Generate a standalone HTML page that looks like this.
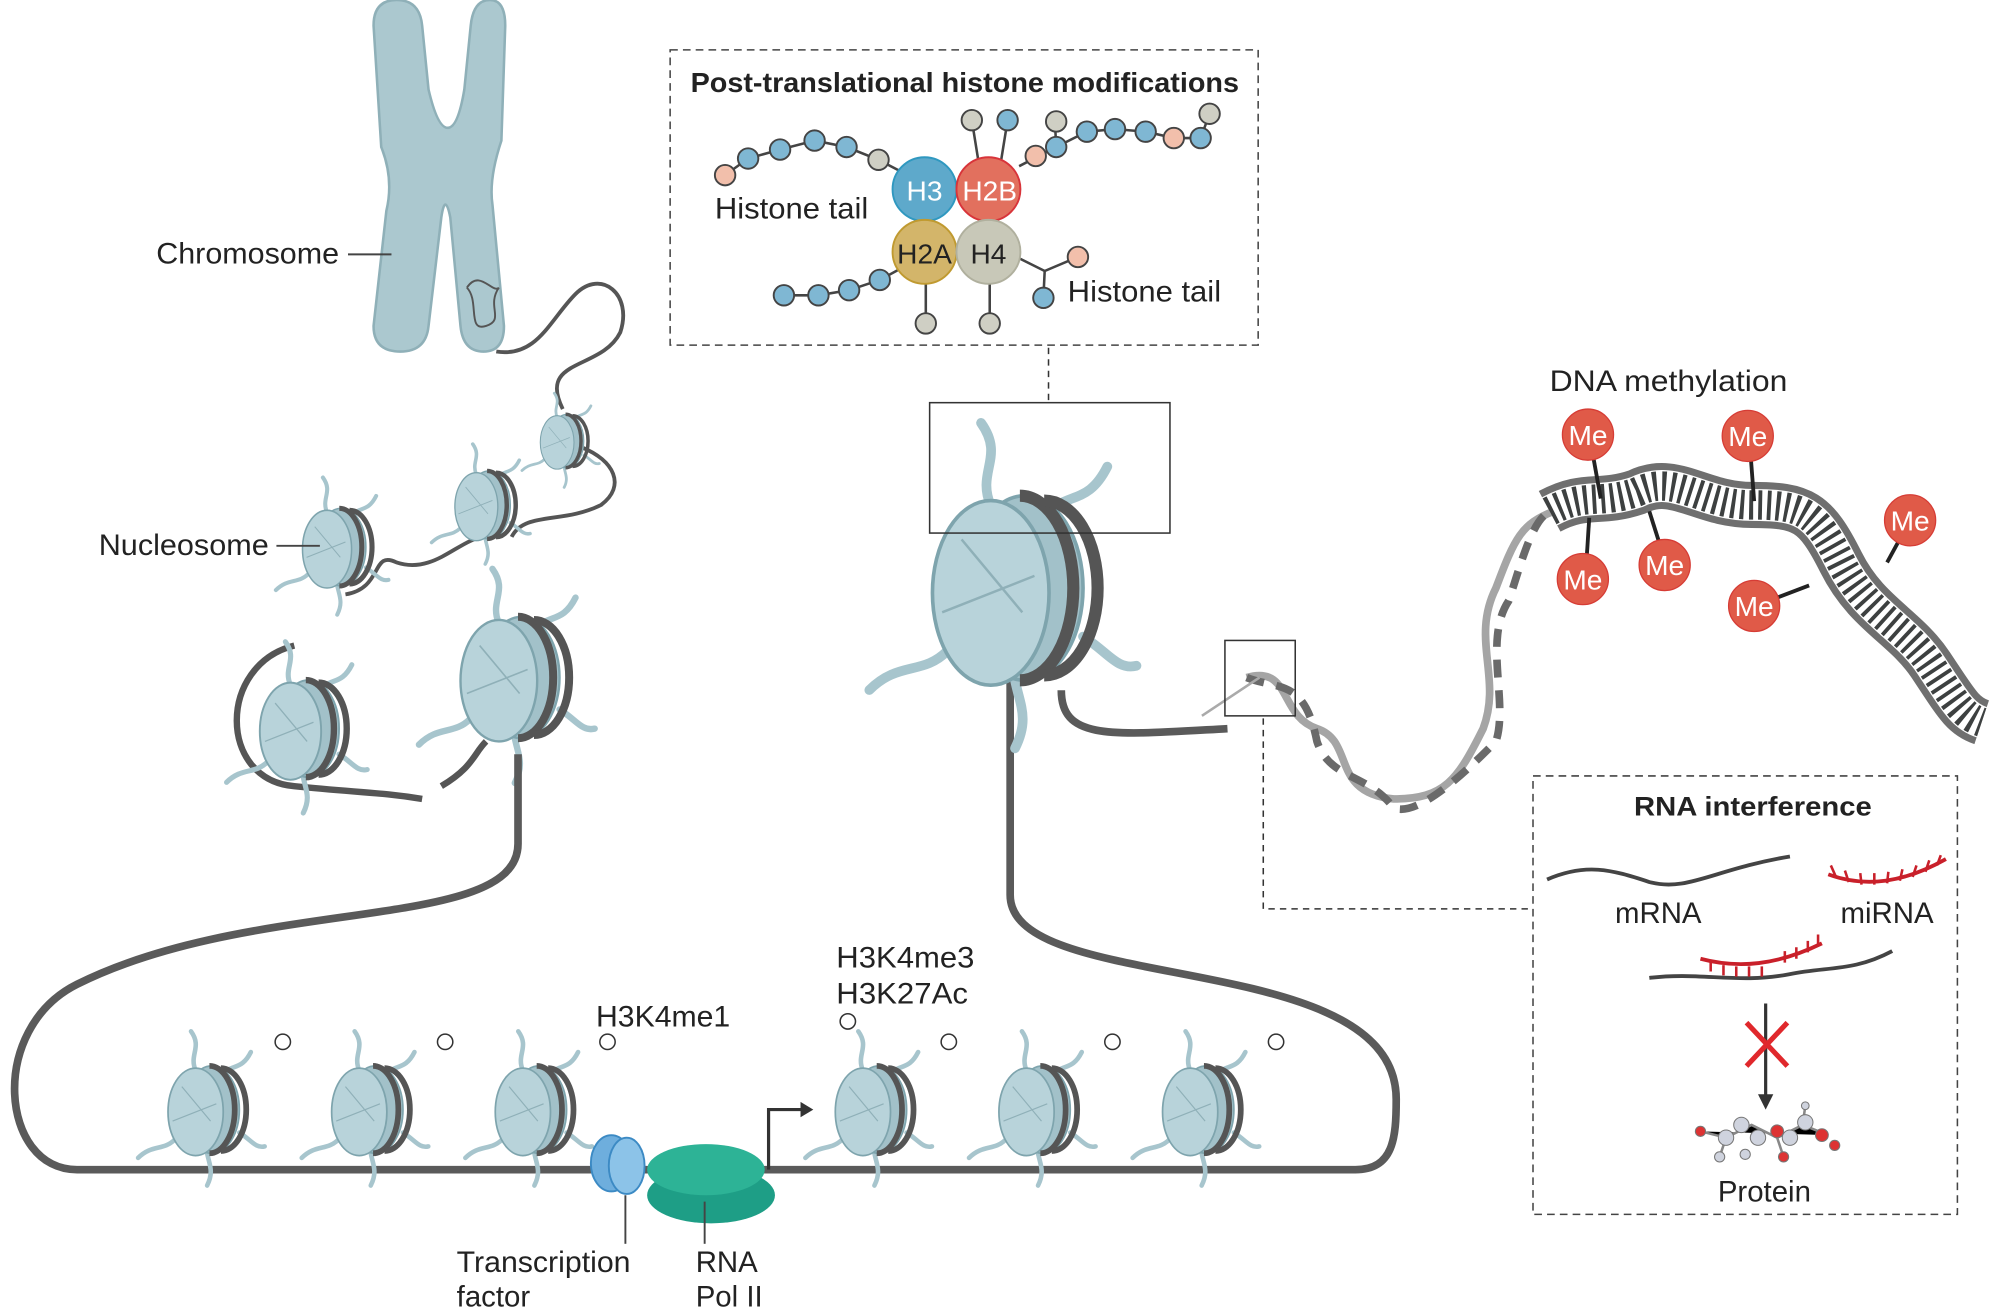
<!DOCTYPE html>
<html><head><meta charset="utf-8"><style>
html,body{margin:0;padding:0;background:#fff}
svg{display:block}
text{font-family:"Liberation Sans",sans-serif;fill:#222}
</style></head><body>
<svg width="2005" height="1309" viewBox="0 0 1568 1024" xmlns="http://www.w3.org/2000/svg">
<defs>
<g id="nuc">
 <g fill="none" stroke="#a7c5cd" stroke-width="4" stroke-linecap="round">
  <path d="M-8,-34 c-6,-14 6,-20 -4,-34"/>
  <path d="M14,-30 c10,-10 18,-4 26,-20"/>
  <path d="M-26,26 c-10,10 -20,4 -32,16"/>
  <path d="M2,38 c2,10 6,16 0,28"/>
  <path d="M30,20 c10,6 14,14 22,12"/>
 </g>
 <ellipse cx="6" cy="0" rx="24" ry="38" fill="#a2c1c9" stroke="#7ea4ad" stroke-width="1.5"/>
 <ellipse cx="-8" cy="2" rx="24" ry="38" fill="#b8d3da" stroke="#7ea4ad" stroke-width="1.5"/>
 <path d="M-20,-20 L5,10 M-28,10 L10,-5" stroke="#8fb0b8" stroke-width="1"/>
 <g fill="none" stroke="#555" stroke-width="5">
  <path d="M4,-38 a22,38 0 0 1 0,76"/>
  <path d="M14,-36 a22,36 0 0 1 0,72"/>
 </g>
</g>
</defs>

<!-- Chromosome -->
<path d="M292,20 Q292,0 310,0 Q328,0 330,20 L335,70 Q342,100 350,100 Q358,100 363,70 L368,20 Q370,0 383,0 Q395,0 395,20 L392,110 Q382,140 385,160 L394,255 Q394,275 378,275 Q362,275 360,255 L352,170 Q348,150 345,170 L335,255 Q333,275 313,275 Q292,275 292,255 L302,165 Q308,140 298,115 Z" fill="#abc8cf" stroke="#8fb0b8" stroke-width="2"/>
<path d="M365,225 c10,-15 20,5 25,0 c-10,15 5,25 -10,30 c-15,5 -5,-20 -15,-30" fill="none" stroke="#555" stroke-width="1.5"/>
<path d="M388,275 C420,280 430,250 450,230 C470,210 495,230 485,260 C470,290 420,280 440,320" fill="none" stroke="#555" stroke-width="3"/>
<text x="122" y="206" font-size="23" textLength="143" lengthAdjust="spacingAndGlyphs">Chromosome</text>
<line x1="272" y1="199" x2="306" y2="199" stroke="#444" stroke-width="1.5"/>

<!-- upper chain nucleosomes -->
<path d="M455,350 C480,360 490,380 470,395 C440,410 410,400 400,420 M380,420 C360,420 340,450 310,440 C290,430 300,460 270,465" fill="none" stroke="#555" stroke-width="3"/>
<use href="#nuc" transform="translate(440,345) scale(0.55)"/>
<use href="#nuc" transform="translate(378,395) scale(0.7)"/>
<use href="#nuc" transform="translate(262,428) scale(0.8)"/>
<text x="77" y="434" font-size="23" textLength="133" lengthAdjust="spacingAndGlyphs">Nucleosome</text>
<line x1="216" y1="427" x2="250" y2="427" stroke="#444" stroke-width="1.5"/>
<path d="M230,505 C170,520 170,610 230,615 C280,620 300,620 330,625" fill="none" stroke="#555" stroke-width="5"/>
<use href="#nuc" transform="translate(235,570)"/>
<use href="#nuc" transform="translate(400,530) scale(1.25)"/>
<path d="M345,615 C370,600 370,590 380,580" fill="none" stroke="#555" stroke-width="5"/>

<!-- big loop DNA -->
<path d="M405,590 L405,660 C405,730 200,700 60,770 C-10,805 0,915 60,915 L1060,915 C1090,915 1092,890 1092,860 C1092,740 790,780 790,700 L790,530" fill="none" stroke="#5a5a5a" stroke-width="6"/>
<path d="M830,540 C830,580 870,575 960,570" fill="none" stroke="#5a5a5a" stroke-width="6"/>

<!-- big nucleosome -->
<use href="#nuc" transform="translate(790,460) scale(1.9)"/>
<rect x="727" y="315" width="188" height="102" fill="none" stroke="#333" stroke-width="1.2"/>
<line x1="820" y1="272" x2="820" y2="313" stroke="#333" stroke-width="1.2" stroke-dasharray="5,4"/>

<!-- PTM box -->
<rect x="524" y="39" width="460" height="231" fill="none" stroke="#444" stroke-width="1.2" stroke-dasharray="6,4"/>
<text x="540" y="72" font-size="22" font-weight="bold" textLength="429" lengthAdjust="spacingAndGlyphs">Post-translational histone modifications</text>
<g stroke="#444" stroke-width="2" fill="none">
<path d="M567,137 L585,124 L610,117 L637,110 L662,115 L687,125 L710,137"/>
<path d="M760,94 L765,125 M788,94 L783,125 M797,130 L826,115 L850,103 L872,101 L896,103 L918,108 L939,108 L946,89 M826,115 L825,95"/>
<path d="M613,231 L640,231 L664,227 L688,219 L710,207"/>
<path d="M724,222 L724,253 M774,222 L774,253 M797,202 L817,212 L843,201 M817,212 L816,233"/>
</g>
<g stroke="#444" stroke-width="1.5">
<circle cx="567" cy="137" r="8" fill="#f2bfab"/><circle cx="585" cy="124" r="8" fill="#7fb7d3"/><circle cx="610" cy="117" r="8" fill="#7fb7d3"/><circle cx="637" cy="110" r="8" fill="#7fb7d3"/><circle cx="662" cy="115" r="8" fill="#7fb7d3"/><circle cx="687" cy="125" r="8" fill="#cfcfc4"/>
<circle cx="760" cy="94" r="8" fill="#cfcfc4"/><circle cx="788" cy="94" r="8" fill="#7fb7d3"/><circle cx="826" cy="95" r="8" fill="#cfcfc4"/>
<circle cx="810" cy="122" r="8" fill="#f2bfab"/><circle cx="826" cy="115" r="8" fill="#7fb7d3"/><circle cx="850" cy="103" r="8" fill="#7fb7d3"/><circle cx="872" cy="101" r="8" fill="#7fb7d3"/><circle cx="896" cy="103" r="8" fill="#7fb7d3"/><circle cx="918" cy="108" r="8" fill="#f2bfab"/><circle cx="939" cy="108" r="8" fill="#7fb7d3"/><circle cx="946" cy="89" r="8" fill="#cfcfc4"/>
<circle cx="613" cy="231" r="8" fill="#7fb7d3"/><circle cx="640" cy="231" r="8" fill="#7fb7d3"/><circle cx="664" cy="227" r="8" fill="#7fb7d3"/><circle cx="688" cy="219" r="8" fill="#7fb7d3"/>
<circle cx="724" cy="253" r="8" fill="#cfcfc4"/><circle cx="774" cy="253" r="8" fill="#cfcfc4"/><circle cx="843" cy="201" r="8" fill="#f2bfab"/><circle cx="816" cy="233" r="8" fill="#7fb7d3"/>
</g>
<circle cx="723" cy="148" r="25" fill="#5ea9cb" stroke="#2f98c0" stroke-width="1.5"/>
<circle cx="773" cy="148" r="25" fill="#e2705e" stroke="#d8343a" stroke-width="1.5"/>
<circle cx="723" cy="197" r="25" fill="#d3b56a" stroke="#c09a30" stroke-width="1.5"/>
<circle cx="773" cy="197" r="25" fill="#c8c8b8" stroke="#b0b09e" stroke-width="1.5"/>
<text x="723" y="157" font-size="22" text-anchor="middle" style="fill:#fff">H3</text>
<text x="774" y="157" font-size="22" text-anchor="middle" style="fill:#fff">H2B</text>
<text x="723" y="206" font-size="22" text-anchor="middle">H2A</text>
<text x="773" y="206" font-size="22" text-anchor="middle">H4</text>
<text x="559" y="171" font-size="23" textLength="120" lengthAdjust="spacingAndGlyphs">Histone tail</text>
<text x="835" y="236" font-size="23" textLength="120" lengthAdjust="spacingAndGlyphs">Histone tail</text>

<!-- helix -->
<g fill="none" stroke-width="6">
<path d="M975,530 C1010,520 1000,560 1030,570 C1060,580 1040,620 1090,625 C1130,625 1140,610 1160,570 C1175,530 1150,500 1170,460 C1185,420 1190,410 1215,400" stroke="#a5a5a5"/>
<path d="M975,530 C1000,540 1020,530 1030,580 C1040,610 1070,605 1090,632 C1110,640 1150,600 1170,580 C1180,550 1160,500 1180,470 C1190,440 1200,400 1215,400" stroke="#6a6a6a" stroke-dasharray="14,10"/>
<path d="M940,560 L985,530" stroke="#aaa" stroke-width="2"/>
</g>
<rect x="958" y="501" width="55" height="59" fill="none" stroke="#333" stroke-width="1.2"/>
<path d="M988,562 L988,711 L1199,711" fill="none" stroke="#333" stroke-width="1.2" stroke-dasharray="5,4"/>

<!-- methylated ribbon -->
<path d="M1212,400 C1240,385 1250,395 1280,385 C1310,370 1330,395 1370,395 C1410,395 1420,400 1440,440 C1460,480 1490,490 1510,520 C1530,550 1535,560 1550,565" fill="none" stroke="#6f6f6f" stroke-width="36"/>
<path d="M1212,400 C1240,385 1250,395 1280,385 C1310,370 1330,395 1370,395 C1410,395 1420,400 1440,440 C1460,480 1490,490 1510,520 C1530,550 1535,560 1550,565" fill="none" stroke="#fff" stroke-width="25"/>
<path d="M1212,400 C1240,385 1250,395 1280,385 C1310,370 1330,395 1370,395 C1410,395 1420,400 1440,440 C1460,480 1490,490 1510,520 C1530,550 1535,560 1550,565" fill="none" stroke="#3d4040" stroke-width="23" stroke-dasharray="3,4"/>
<text x="1212" y="306" font-size="23" textLength="186" lengthAdjust="spacingAndGlyphs">DNA methylation</text>
<g stroke="#222" stroke-width="3">
<line x1="1243" y1="340" x2="1252" y2="390"/><line x1="1368" y1="340" x2="1372" y2="392"/>
<line x1="1240" y1="452" x2="1243" y2="405"/><line x1="1303" y1="441" x2="1290" y2="400"/>
<line x1="1373" y1="474" x2="1415" y2="458"/><line x1="1494" y1="407" x2="1476" y2="440"/>
</g>
<g fill="#e05a48" stroke="#d63c35" stroke-width="1">
<circle cx="1242" cy="340" r="20"/><circle cx="1367" cy="341" r="20"/><circle cx="1494" cy="407" r="20"/>
<circle cx="1238" cy="453" r="20"/><circle cx="1302" cy="442" r="20"/><circle cx="1372" cy="474" r="20"/>
</g>
<g font-size="22" text-anchor="middle">
<text x="1242" y="348" style="fill:#fff">Me</text><text x="1367" y="349" style="fill:#fff">Me</text><text x="1494" y="415" style="fill:#fff">Me</text>
<text x="1238" y="461" style="fill:#fff">Me</text><text x="1302" y="450" style="fill:#fff">Me</text><text x="1372" y="482" style="fill:#fff">Me</text>
</g>

<!-- RNAi box -->
<rect x="1199" y="607" width="332" height="343" fill="none" stroke="#444" stroke-width="1.2" stroke-dasharray="6,4"/>
<text x="1371" y="638" font-size="21" font-weight="bold" text-anchor="middle" textLength="186" lengthAdjust="spacingAndGlyphs">RNA interference</text>
<path d="M1210,688 C1240,675 1260,680 1290,690 C1320,698 1340,680 1400,670" fill="none" stroke="#444" stroke-width="3"/>
<path d="M1430,684 C1460,695 1490,690 1522,672" fill="none" stroke="#c9202a" stroke-width="3"/>
<path d="M1436,686 l-4,-9 M1446,690 l-3,-9 M1456,692 l-1,-9 M1466,692 l0,-9 M1476,691 l1,-9 M1486,689 l2,-9 M1496,686 l3,-9 M1506,682 l3,-9 M1515,677 l3,-8" stroke="#c9202a" stroke-width="2"/>
<text x="1297" y="722" font-size="23" text-anchor="middle">mRNA</text>
<text x="1476" y="722" font-size="23" text-anchor="middle">miRNA</text>
<path d="M1290,765 C1330,760 1360,770 1400,762 C1430,756 1450,760 1480,744" fill="none" stroke="#444" stroke-width="3"/>
<path d="M1330,750 C1360,758 1390,755 1425,738" fill="none" stroke="#c9202a" stroke-width="3"/>
<path d="M1338,752 l0,8 M1348,755 l0,8 M1358,756 l0,8 M1368,756 l0,8 M1378,756 l0,8 M1396,753 l0,-9 M1405,750 l0,-9 M1414,745 l0,-9 M1422,740 l0,-9" stroke="#c9202a" stroke-width="2"/>
<line x1="1381" y1="785" x2="1381" y2="858" stroke="#333" stroke-width="2.5"/>
<path d="M1375,856 L1381,868 L1387,856 Z" fill="#333"/>
<path d="M1366,800 L1398,834 M1398,800 L1366,834" stroke="#e0282c" stroke-width="4"/>
<g stroke="#888" stroke-width="2"><path d="M1330,885 L1350,890 L1370,880 L1390,890 L1410,880 L1430,888 M1350,890 L1345,905 M1390,890 L1395,905 M1410,880 L1412,865"/></g>
<g stroke="#777" stroke-width="0.8">
<circle cx="1330" cy="885" r="4" fill="#d33"/><circle cx="1350" cy="890" r="6" fill="#cfd3de"/><circle cx="1362" cy="880" r="6" fill="#cfd3de"/><circle cx="1375" cy="890" r="6" fill="#cfd3de"/><circle cx="1390" cy="885" r="5" fill="#d33"/><circle cx="1400" cy="890" r="6" fill="#cfd3de"/><circle cx="1412" cy="878" r="6" fill="#cfd3de"/><circle cx="1425" cy="888" r="5" fill="#d33"/><circle cx="1435" cy="896" r="4" fill="#d33"/><circle cx="1345" cy="905" r="4" fill="#cfd3de"/><circle cx="1365" cy="903" r="4" fill="#cfd3de"/><circle cx="1395" cy="905" r="4" fill="#d33"/><circle cx="1412" cy="865" r="3" fill="#cfd3de"/>
</g>
<text x="1380" y="940" font-size="23" text-anchor="middle">Protein</text>

<!-- bottom nucleosomes -->
<use href="#nuc" transform="translate(160,868) scale(0.9)"/>
<use href="#nuc" transform="translate(288,868) scale(0.9)"/>
<use href="#nuc" transform="translate(416,868) scale(0.9)"/>
<use href="#nuc" transform="translate(682,868) scale(0.9)"/>
<use href="#nuc" transform="translate(810,868) scale(0.9)"/>
<use href="#nuc" transform="translate(938,868) scale(0.9)"/>
<g fill="#fff" stroke="#333" stroke-width="1.2">
<circle cx="221" cy="815" r="6"/><circle cx="348" cy="815" r="6"/><circle cx="475" cy="815" r="6"/><circle cx="663" cy="799" r="6"/><circle cx="742" cy="815" r="6"/><circle cx="870" cy="815" r="6"/><circle cx="998" cy="815" r="6"/>
</g>
<text x="466" y="803" font-size="23" textLength="105" lengthAdjust="spacingAndGlyphs">H3K4me1</text>
<text x="654" y="757" font-size="23" textLength="108" lengthAdjust="spacingAndGlyphs">H3K4me3</text>
<text x="654" y="785" font-size="23" textLength="103" lengthAdjust="spacingAndGlyphs">H3K27Ac</text>
<path d="M601,915 L601,868 L628,868" fill="none" stroke="#333" stroke-width="2.5"/>
<path d="M626,862 L636,868 L626,874 Z" fill="#333"/>
<ellipse cx="478" cy="910" rx="16" ry="22" fill="#6eaedd" stroke="#3c8ac4" stroke-width="1.5"/>
<ellipse cx="490" cy="912" rx="14" ry="22" fill="#8cc3e8" stroke="#3c8ac4" stroke-width="1.5"/>
<ellipse cx="556" cy="935" rx="50" ry="22" fill="#1e9e86"/>
<ellipse cx="552" cy="915" rx="46" ry="20" fill="#2db396"/>
<line x1="489" y1="935" x2="489" y2="973" stroke="#444" stroke-width="1.5"/>
<line x1="551" y1="940" x2="551" y2="973" stroke="#444" stroke-width="1.5"/>
<text x="357" y="995" font-size="23" textLength="136" lengthAdjust="spacingAndGlyphs">Transcription</text>
<text x="357" y="1022" font-size="23">factor</text>
<text x="544" y="995" font-size="23">RNA</text>
<text x="544" y="1022" font-size="23">Pol II</text>
</svg>
</body></html>
